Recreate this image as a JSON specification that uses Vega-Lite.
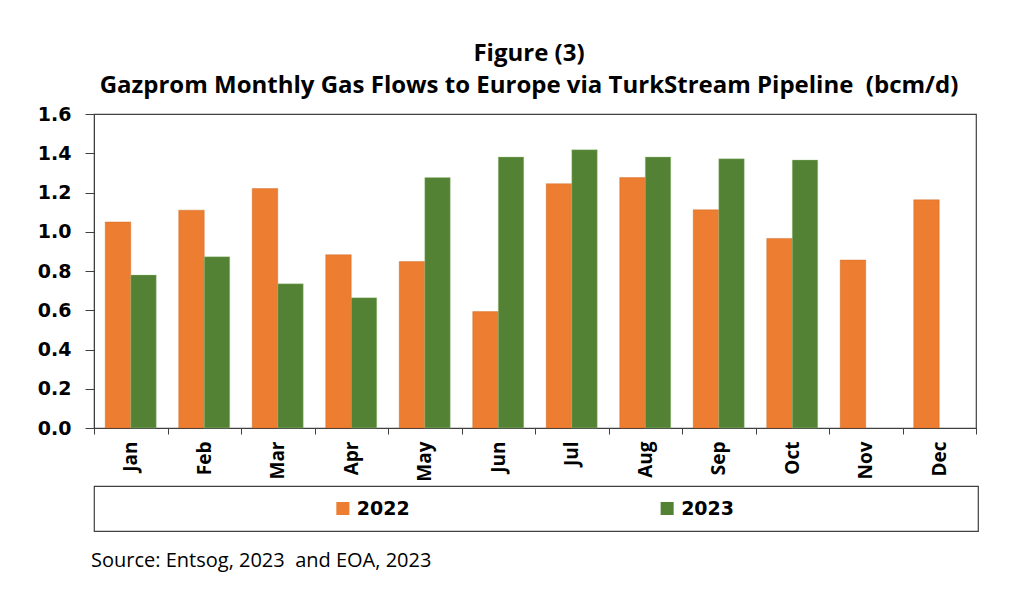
{
  "$schema": "https://vega.github.io/schema/vega-lite/v6.json",
  "background": "white",
  "padding": {"left": 36, "top": 41, "right": 5, "bottom": 5},
  "config": {
    "font": "Open Sans",
    "view": {"stroke": "#404040", "strokeWidth": 1.2},
    "concat": {"spacing": 3}
  },
  "vconcat": [
    {
      "width": 882,
      "height": 314,
      "title": {
        "text": ["Figure (3)", "Gazprom Monthly Gas Flows to Europe via TurkStream Pipeline \u00a0(bcm/d)"],
        "font": "Open Sans",
        "fontSize": 24,
        "fontWeight": "bold",
        "lineHeight": 32,
        "color": "black",
        "anchor": "middle",
        "dx": -6,
        "offset": 7
      },
      "data": {
        "values": [
          {"month": "Jan", "year": "2022", "value": 1.05},
          {"month": "Jan", "year": "2023", "value": 0.78},
          {"month": "Feb", "year": "2022", "value": 1.11},
          {"month": "Feb", "year": "2023", "value": 0.873},
          {"month": "Mar", "year": "2022", "value": 1.22},
          {"month": "Mar", "year": "2023", "value": 0.735},
          {"month": "Apr", "year": "2022", "value": 0.883},
          {"month": "Apr", "year": "2023", "value": 0.664},
          {"month": "May", "year": "2022", "value": 0.848},
          {"month": "May", "year": "2023", "value": 1.276},
          {"month": "Jun", "year": "2022", "value": 0.593},
          {"month": "Jun", "year": "2023", "value": 1.381},
          {"month": "Jul", "year": "2022", "value": 1.245},
          {"month": "Jul", "year": "2023", "value": 1.418},
          {"month": "Aug", "year": "2022", "value": 1.276},
          {"month": "Aug", "year": "2023", "value": 1.381},
          {"month": "Sep", "year": "2022", "value": 1.112},
          {"month": "Sep", "year": "2023", "value": 1.372},
          {"month": "Oct", "year": "2022", "value": 0.966},
          {"month": "Oct", "year": "2023", "value": 1.366},
          {"month": "Nov", "year": "2022", "value": 0.856},
          {"month": "Dec", "year": "2022", "value": 1.163}
        ]
      },
      "mark": {"type": "bar", "strokeWidth": 0.6, "strokeOpacity": 0.6},
      "encoding": {
        "x": {
          "field": "month",
          "type": "nominal",
          "sort": ["Jan", "Feb", "Mar", "Apr", "May", "Jun", "Jul", "Aug", "Sep", "Oct", "Nov", "Dec"],
          "scale": {"paddingInner": 0, "paddingOuter": 0},
          "axis": {
            "title": null,
            "labelAngle": -90,
            "tickBand": "extent",
            "labelFont": "Open Sans",
            "labelFontWeight": "bold",
            "labelFontSize": 19,
            "labelColor": "black",
            "labelPadding": 7,
            "domainColor": "#404040",
            "tickColor": "#404040",
            "tickSize": 6
          }
        },
        "xOffset": {
          "field": "year",
          "type": "nominal",
          "scale": {"domain": ["2022", "2023"], "paddingOuter": 0.44, "paddingInner": 0}
        },
        "y": {
          "field": "value",
          "type": "quantitative",
          "scale": {"domain": [0, 1.6]},
          "axis": {
            "title": null,
            "values": [0, 0.2, 0.4, 0.6, 0.8, 1.0, 1.2, 1.4, 1.6],
            "format": ".1f",
            "grid": false,
            "labelFont": "DejaVu Sans",
            "labelFontWeight": "bold",
            "labelFontSize": 19,
            "labelColor": "black",
            "labelPadding": 14,
            "domainColor": "#404040",
            "tickColor": "#404040",
            "tickSize": 9
          }
        },
        "color": {
          "field": "year",
          "type": "nominal",
          "scale": {"domain": ["2022", "2023"], "range": ["#ED7D31", "#548235"]},
          "legend": null
        },
        "stroke": {
          "field": "year",
          "type": "nominal",
          "scale": {"domain": ["2022", "2023"], "range": ["#C55A11", "#A9D18E"]},
          "legend": null
        }
      }
    },
    {
      "width": 884,
      "height": 45,
      "title": {
        "text": "Source: Entsog, 2023 \u00a0and EOA, 2023",
        "orient": "bottom",
        "anchor": "start",
        "font": "Open Sans",
        "fontSize": 20,
        "fontWeight": "normal",
        "color": "black",
        "offset": 20,
        "dx": -3
      },
      "data": {"values": [{"year": "2022"}, {"year": "2023"}]},
      "encoding": {
        "x": {
          "field": "year",
          "type": "nominal",
          "scale": {"type": "point", "padding": 0.863},
          "axis": null
        }
      },
      "layer": [
        {
          "mark": {"type": "point", "shape": "square", "filled": true, "size": 170, "opacity": 1, "xOffset": -31},
          "encoding": {
            "color": {
              "field": "year",
              "type": "nominal",
              "scale": {"domain": ["2022", "2023"], "range": ["#ED7D31", "#548235"]},
              "legend": null
            }
          }
        },
        {
          "mark": {"type": "text", "align": "left", "baseline": "middle", "dx": -17, "font": "DejaVu Sans", "fontWeight": "bold", "fontSize": 19, "color": "black"},
          "encoding": {"text": {"field": "year"}}
        }
      ]
    }
  ]
}
